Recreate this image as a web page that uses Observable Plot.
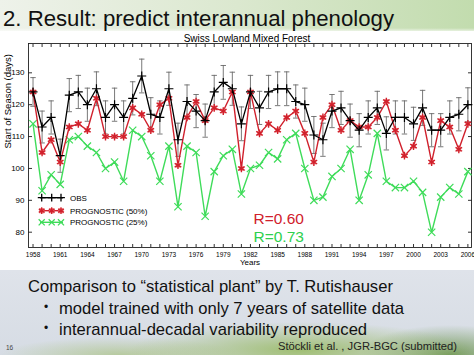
<!DOCTYPE html>
<html><head><meta charset="utf-8">
<script src="https://cdn.jsdelivr.net/npm/d3@7"></script>
<script src="https://cdn.jsdelivr.net/npm/@observablehq/plot@0.6"></script>
<style>
body{margin:0;background:#fff;}
#slide{position:relative;width:474px;height:355px;overflow:hidden;font-family:"Liberation Sans",Arial,Helvetica,sans-serif;background:#fff;}
#topband{position:absolute;left:0;top:0;width:474px;height:31px;background:linear-gradient(to right,#eef2ea 0%,#dbe8cf 50%,#c2dcae 100%);}
#topfade{position:absolute;left:0;top:28px;width:474px;height:5px;background:linear-gradient(to bottom,rgba(255,255,255,0),#fff);}
#bottom{position:absolute;left:0;top:270px;width:474px;height:85px;
 background:
  radial-gradient(ellipse 170px 28px at 300px 80px, rgba(150,185,95,0.85), rgba(150,185,95,0) 100%),
  radial-gradient(ellipse 90px 30px at 450px 85px, rgba(95,140,60,0.8), rgba(95,140,60,0) 100%),
  radial-gradient(ellipse 120px 18px at 120px 85px, rgba(170,195,130,0.7), rgba(170,195,130,0) 100%),
  linear-gradient(to bottom,#dfe3ea,#d6dce4);}
#chart{position:absolute;left:0;top:28px;}
#overlay{position:absolute;left:0;top:0;}
</style></head><body>
<div id="slide"><div id="topband"></div><div id="topfade"></div><div id="bottom"></div><div id="chart"></div><svg id="overlay" width="474" height="355"></svg></div>
<script>
const years = [1958,1959,1960,1961,1962,1963,1964,1965,1966,1967,1968,1969,1970,1971,1972,1973,1974,1975,1976,1977,1978,1979,1980,1981,1982,1983,1984,1985,1986,1987,1988,1989,1990,1991,1992,1993,1994,1995,1996,1997,1998,1999,2000,2001,2002,2003,2004,2005,2006];
const obs = [124,113,116,104,123,124,120,125,116,120,116,122,129,117,116,125,109,121,118,115,124,127,125,114,124,119,124,125,125,121,120,110.5,109,118,119,115,112,116,119,111,116,116,114,119,112,112,116,117,120];
const obsErr = [4.5,5,5.2,5.2,5.2,5.2,5.2,5.3,5.2,5.2,5.2,5.2,5.3,5.2,5.2,5.2,5.2,5.2,5.2,5.2,5.2,5.3,5.2,5.3,5.2,5.2,5.2,5.3,5.3,5.2,5.2,5.8,5.2,5.2,5.2,5.2,5.2,5.2,5.2,5.2,5.2,5.2,5.2,5.5,5.2,5.2,5.2,5.2,5.3];
const prog50 = [124,105,109,102,113,114,112,122,110,110,110,119,117,112,120,122,101,116,121,115,119,118,124,100,124,111,114,112,116,118,111,102,116,120,112,115,113,113,116,121,112,104,107,116,102,115,113,106,114];
const prog25 = [114,93,98,95,109,110,107,105,100,102,96,112,110,104,96,107,88,107,105,85,99,104,106,92,100,101,105,103,109,111,100,90,91,97.5,100,106,90,98,111,96,94,94,96,92.5,80,91,94,92,99];
const yearLabels = [1958,1961,1964,1967,1970,1973,1976,1979,1982,1985,1988,1991,1994,1997,2000,2003,2006];
const yTicks = [80,90,100,110,120,130];
const seriesNames = ["OBS","PROGNOSTIC (50%)","PROGNOSTIC (25%)"];
const rLabels = ["R=0.60","R=0.73"];

const RED = "#d0202c", GREEN = "#3fdc5a", BAR = "#6a6a6a";
const FONT = "'Liberation Sans',Arial,Helvetica,sans-serif";
const data = years.map((year,i)=>({year, obs:obs[i], err:obsErr[i], p50:prog50[i], p25:prog25[i]}));

const chart = Plot.plot({
  width:474, height:242, marginTop:15, marginBottom:23, marginLeft:28, marginRight:3,
  style:{fontFamily:FONT, background:"transparent", color:"#000", overflow:"visible"},
  x:{domain:[1957.5,2006.4]},
  y:{domain:[75.2,139.2]},
  marks:[
    Plot.axisX(years,{anchor:"bottom", tickSize:-3, tickFormat:()=>"", label:null, stroke:"#333"}),
    Plot.axisX(years,{anchor:"top", tickSize:-3, tickFormat:()=>"", label:null, stroke:"#333"}),
    Plot.axisX(yearLabels,{anchor:"bottom", tickSize:0, tickPadding:5, tickFormat:d=>String(d), fontSize:6.5, label:null}),
    Plot.axisY(yTicks,{anchor:"left", tickSize:-4, tickFormat:()=>"", label:null, stroke:"#333"}),
    Plot.axisY(yTicks,{anchor:"right", tickSize:-4, tickFormat:()=>"", label:null, stroke:"#333"}),
    Plot.axisY(yTicks,{anchor:"left", tickSize:0, tickPadding:4, fontSize:8, label:null}),
    Plot.frame({stroke:"#222", strokeWidth:0.9}),
    Plot.text(["Swiss Lowland Mixed Forest"],{frameAnchor:"top", dy:-9, dx:-3, fontSize:10}),
    Plot.text(["Start of Season (days)"],{frameAnchor:"left", rotate:-90, dx:-21, dy:3, fontSize:9.5}),
    Plot.text(["Years"],{frameAnchor:"bottom", dy:17, fontSize:8}),
    Plot.ruleX(data,{x:"year", y1:d=>d.obs-d.err, y2:d=>d.obs+d.err, stroke:BAR, strokeWidth:0.9}),
    Plot.link(data,{x1:d=>d.year-0.3, x2:d=>d.year+0.3, y1:d=>d.obs+d.err, y2:d=>d.obs+d.err, stroke:BAR, strokeWidth:0.9}),
    Plot.link(data,{x1:d=>d.year-0.3, x2:d=>d.year+0.3, y1:d=>d.obs-d.err, y2:d=>d.obs-d.err, stroke:BAR, strokeWidth:0.9}),
    Plot.line(data,{x:"year", y:"p25", stroke:GREEN, strokeWidth:1.4}),
    Plot.dot(data,{x:"year", y:"p25", symbol:"times", r:3.4, stroke:GREEN, strokeWidth:1.2}),
    Plot.line(data,{x:"year", y:"p50", stroke:RED, strokeWidth:1.4}),
    Plot.dot(data,{x:"year", y:"p50", symbol:"square", r:2.6, fill:"#ef7b7b", stroke:"none"}),
    Plot.dot(data,{x:"year", y:"p50", symbol:"asterisk", r:3.6, stroke:RED, strokeWidth:1.4}),
    Plot.line(data,{x:"year", y:"obs", stroke:"#000", strokeWidth:1.3}),
    Plot.dot(data,{x:"year", y:"obs", symbol:"plus", r:3, stroke:"#000", strokeWidth:1.2}),
    Plot.text([rLabels[0]],{frameAnchor:"bottom-left", dx:225, dy:-24, lineAnchor:"bottom", textAnchor:"start", fontSize:15.5, fill:RED}),
    Plot.text([rLabels[1]],{frameAnchor:"bottom-left", dx:225, dy:-6, lineAnchor:"bottom", textAnchor:"start", fontSize:15.5, fill:"#2ed04e"})
  ]
});
document.getElementById("chart").appendChild(chart);

// legend
const svg = d3.select(chart);
const lg = svg.append("g").attr("font-family", FONT).attr("font-size", 8).attr("text-anchor","start");
const legendStyles = [
  {stroke:"#000", sym:d3.symbolPlus, size:22},
  {stroke:RED, sym:d3.symbolAsterisk, size:32},
  {stroke:GREEN, sym:d3.symbolTimes, size:26}
];
const rowY = [169.7, 182.7, 194.3];
seriesNames.forEach((name,i)=>{
  const st = legendStyles[i], y = rowY[i];
  lg.append("line").attr("x1",40).attr("x2",63).attr("y1",y).attr("y2",y).attr("stroke",st.stroke).attr("stroke-width",1.4);
  [41.7,51.7,61].forEach(x=>{
    if(i===1) lg.append("rect").attr("x",x-2.6).attr("y",y-2.6).attr("width",5.2).attr("height",5.2).attr("fill","#ef7b7b");
    lg.append("path").attr("transform",`translate(${x},${y})`).attr("d",d3.symbol(st.sym, st.size)()).attr("fill","none").attr("stroke",st.stroke).attr("stroke-width",1.3);
  });
  lg.append("text").attr("x",70).attr("y",y).attr("dy","0.35em").attr("fill","#000").text(name);
});

// slide texts
const ov = d3.select("#overlay").attr("font-family", FONT);
ov.append("text").attr("x",3).attr("y",26).attr("font-size",22.2).attr("fill","#111").text("2. Result: predict interannual phenology");
ov.append("text").attr("x",28).attr("y",292).attr("font-size",16.6).attr("fill","#111").text("Comparison to \u201Cstatistical plant\u201D by T. Rutishauser");
ov.append("text").attr("x",44).attr("y",311).attr("font-size",12).attr("fill","#111").text("\u2022");
ov.append("text").attr("x",59).attr("y",314).attr("font-size",16.6).attr("fill","#111").text("model trained with only 7 years of satellite data");
ov.append("text").attr("x",44).attr("y",332).attr("font-size",12).attr("fill","#111").text("\u2022");
ov.append("text").attr("x",59).attr("y",335).attr("font-size",16.6).attr("fill","#111").text("interannual-decadal variability reproduced");
ov.append("text").attr("x",457).attr("y",350).attr("text-anchor","end").attr("font-size",11.2).attr("fill","#222").text("St\u00F6ckli et al. , JGR-BGC (submitted)");
ov.append("text").attr("x",6).attr("y",350).attr("font-size",6.5).attr("fill","#444").text("16");
</script>
</body></html>
